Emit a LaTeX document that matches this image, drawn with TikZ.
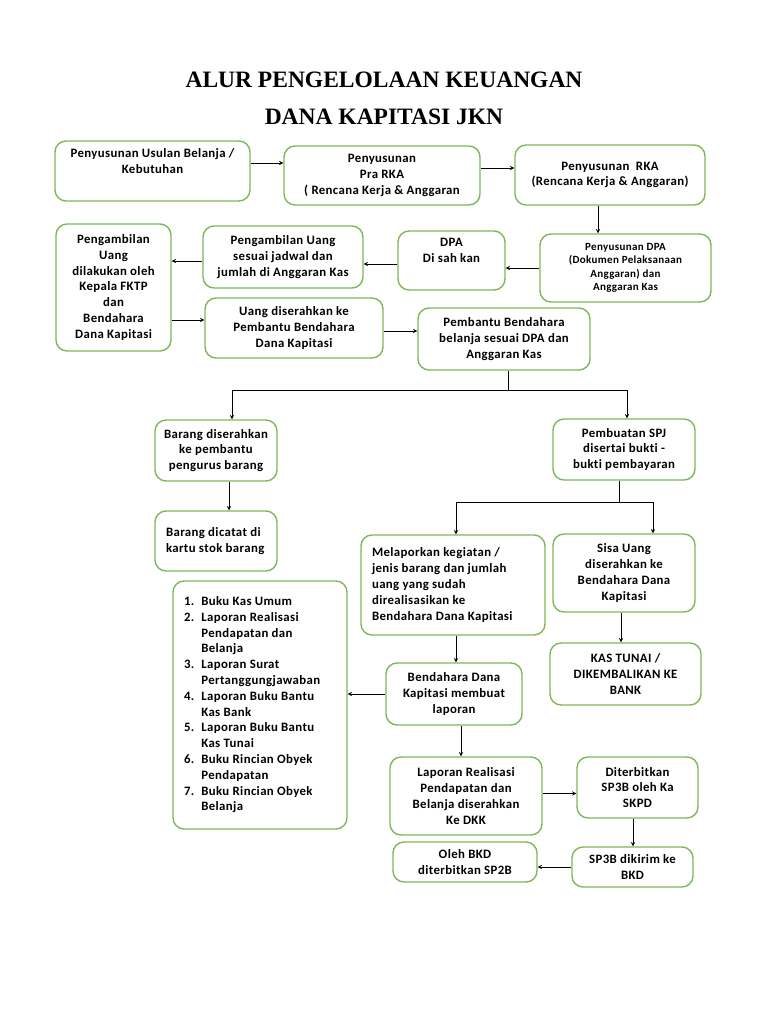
\documentclass[tikz,border=0pt]{standalone}
\usepackage{fontspec}
\setmainfont{Carlito}[LetterSpace=3, Ligatures=CommonOff]
\newfontfamily\judulfont{Liberation Serif}
\usetikzlibrary{arrows}
\definecolor{hijau}{RGB}{125,183,88}
\tikzset{
	kotak/.style={draw=hijau, line width=1.4pt, rounded corners=11pt, align=center, inner sep=3pt,
		font=\fontsize{12.8}{15.8}\selectfont\bfseries},
	kiri/.style={align=flush left, inner xsep=11pt, text width=#1},
	ukuran/.style 2 args={minimum width=#1, minimum height=#2},
	panah/.style={->, line width=0.9pt}
}
\begin{document}
\begin{tikzpicture}[x=1pt, y=-1pt, >=stealth]
	\useasboundingbox (0,0) rectangle (768,1024);
	% judul
	\node[font=\judulfont\fontsize{23.5}{25}\selectfont\bfseries] (judul1) at (384,80) {ALUR PENGELOLAAN KEUANGAN};
	\node[font=\judulfont\fontsize{23.5}{25}\selectfont\bfseries] (judul2) at (384,117) {DANA KAPITASI JKN};
	% baris atas
	\node[kotak, ukuran={195}{60}] (usulan) at (152.5,171) {Penyusunan Usulan Belanja /\\Kebutuhan\\[4pt]};
	\node[kotak, ukuran={196}{59}] (pra) at (382,175.5) {Penyusunan\\Pra RKA\\( Rencana Kerja \& Anggaran};
	\node[kotak, ukuran={190}{60}] (rka) at (610,175) {Penyusunan~~RKA\\(Rencana Kerja \& Anggaran)};
	\node[kotak, ukuran={171}{68}, font=\fontsize{11}{13.5}\selectfont\bfseries] (pdpa) at (625.5,268) {Penyusunan DPA\\(Dokumen Pelaksanaan\\Anggaran) dan\\Anggaran Kas};
	\node[kotak, ukuran={107}{59}] (sah) at (451.5,260.5) {DPA\\Di sah kan\\[4pt]};
	\node[kotak, ukuran={160}{62}] (jadwal) at (283,257) {Pengambilan Uang\\sesuai jadwal dan\\jumlah di Anggaran Kas};
	\node[kotak, ukuran={115}{127}] (ambil) at (113.5,287.5) {Pengambilan\\Uang\\dilakukan oleh\\Kepala FKTP\\dan\\Bendahara\\Dana Kapitasi};
	\node[kotak, ukuran={178}{60}] (uang) at (294,328) {Uang diserahkan ke\\Pembantu Bendahara\\Dana Kapitasi};
	\node[kotak, ukuran={172}{62}] (pb) at (504,339) {Pembantu Bendahara\\belanja sesuai DPA dan\\Anggaran Kas};
	% cabang kiri
	\node[kotak, ukuran={122}{61}] (brg) at (216,450.5) {Barang diserahkan\\ke pembantu\\pengurus barang};
	\node[kotak, ukuran={122}{60}, kiri=100pt] (catat) at (216,541) {Barang dicatat di\\kartu stok barang\\[4pt]};
	% cabang kanan
	\node[kotak, ukuran={142}{61}] (spj) at (624,449.5) {Pembuatan SPJ\\disertai bukti -\\bukti pembayaran};
	\node[kotak, ukuran={184}{100}, kiri=162pt] (lapor) at (453,585) {Melaporkan kegiatan /\\jenis barang dan jumlah\\uang yang sudah\\direalisasikan ke\\Bendahara Dana Kapitasi};
	\node[kotak, ukuran={142}{78}] (sisa) at (624,573) {Sisa Uang\\diserahkan ke\\Bendahara Dana\\Kapitasi};
	\node[kotak, ukuran={151}{62}] (kas) at (625.5,674) {KAS TUNAI /\\DIKEMBALIKAN KE\\BANK};
	\node[kotak, ukuran={174}{248}, kiri=152pt] (daftar) at (260,705) {%
		\begin{tabular}{@{}r@{\hspace{7pt}}l@{}}
			1. & Buku Kas Umum\\
			2. & Laporan Realisasi\\
			   & Pendapatan dan\\
			   & Belanja\\
			3. & Laporan Surat\\
			   & Pertanggungjawaban\\
			4. & Laporan Buku Bantu\\
			   & Kas Bank\\
			5. & Laporan Buku Bantu\\
			   & Kas Tunai\\
			6. & Buku Rincian Obyek\\
			   & Pendapatan\\
			7. & Buku Rincian Obyek\\
			   & Belanja
		\end{tabular}};
	\node[kotak, ukuran={136}{62}] (bend) at (454,694) {Bendahara Dana\\Kapitasi membuat\\laporan};
	\node[kotak, ukuran={152}{78}] (lrpb) at (466,796) {Laporan Realisasi\\Pendapatan dan\\Belanja diserahkan\\Ke DKK};
	\node[kotak, ukuran={121}{61}] (sp3b) at (637.5,787.5) {Diterbitkan\\SP3B oleh Ka\\SKPD};
	\node[kotak, ukuran={121}{40}] (kirim) at (632.5,867) {SP3B dikirim ke\\BKD};
	\node[kotak, ukuran={144}{40}] (sp2b) at (465,862) {Oleh BKD\\diterbitkan SP2B};
	% titik cabang
	\coordinate (c1) at (508,390);
	\coordinate (c2) at (619,502);
	% panah
	\draw[panah] ([yshift=8]usulan.east) -- ([yshift=8]usulan.east -| pra.west);
	\draw[panah] ([yshift=7.5]pra.east) -- ([yshift=7.5]pra.east -| rka.west);
	\draw[panah] ([xshift=-12]rka.south) -- ([xshift=-12]rka.south |- pdpa.north);
	\draw[panah] (pdpa.west) -- (pdpa.west -| sah.east);
	\draw[panah] ([yshift=-3.5]sah.west) -- ([yshift=-3.5]sah.west -| jadwal.east);
	\draw[panah] ([yshift=-4]jadwal.west) -- ([yshift=-4]jadwal.west -| ambil.east);
	\draw[panah] ([yshift=8]uang.west -| ambil.east) -- ([yshift=8]uang.west);
	\draw[panah] ([yshift=-3]uang.east) -- ([yshift=-3]uang.east -| pb.west);
	\draw[line width=0.9pt] (pb.south -| c1) -- (c1);
	\draw[panah] (c1) -| ([xshift=16]brg.north);
	\draw[panah] (c1) -| ([xshift=3]spj.north);
	\draw[panah] ([xshift=13]brg.south) -- ([xshift=13]brg.south |- catat.north);
	\draw[line width=0.9pt] (spj.south -| c2) -- (c2);
	\draw[panah] (c2) -| ([xshift=3]lapor.north);
	\draw[panah] (c2) -| ([xshift=29]sisa.north);
	\draw[panah] ([xshift=-3]sisa.south) -- ([xshift=-3]sisa.south |- kas.north);
	\draw[panah] ([xshift=3]lapor.south) -- ([xshift=3]lapor.south |- bend.north);
	\draw[panah] (bend.west) -- (bend.west -| daftar.east);
	\draw[panah] ([xshift=7]bend.south) -- ([xshift=7]bend.south |- lrpb.north);
	\draw[panah] ([yshift=2.5]lrpb.east) -- ([yshift=2.5]lrpb.east -| sp3b.west);
	\draw[panah] ([xshift=-4.5]sp3b.south) -- ([xshift=-4.5]sp3b.south |- kirim.north);
	\draw[panah] (kirim.west) -- (kirim.west -| sp2b.east);
\end{tikzpicture}
\end{document}
